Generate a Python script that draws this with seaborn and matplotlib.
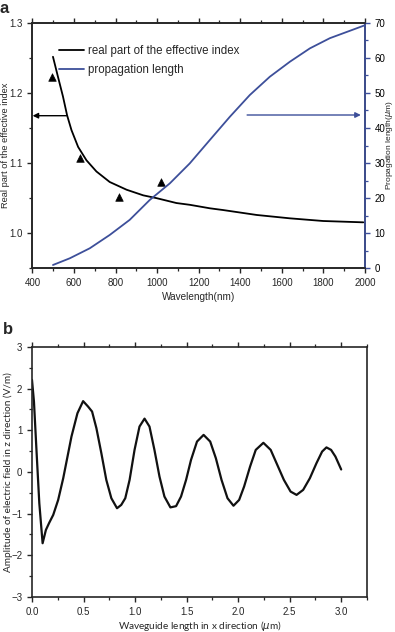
import numpy as np
import pandas as pd
import matplotlib
matplotlib.use("Agg")
import matplotlib.pyplot as plt
from matplotlib.ticker import MultipleLocator
import seaborn as sns

# panel a: effective index (left axis) and propagation length (right axis)
wl_index = [499, 523, 547, 567, 588, 620, 660, 708, 772, 853, 933, 997, 1093, 1157,
            1254, 1318, 1479, 1639, 1799, 1992]
n_eff = [1.2515, 1.223, 1.195, 1.168, 1.147, 1.123, 1.104, 1.088, 1.073, 1.062, 1.054,
         1.050, 1.043, 1.0405, 1.0355, 1.033, 1.026, 1.0212, 1.0174, 1.0155]

wl_prop = [499, 580, 676, 772, 868, 965, 1061, 1157, 1254, 1350, 1446, 1542, 1639, 1735,
           1831, 1927, 2000]
prop_len = [0.94, 2.85, 5.7, 9.5, 13.8, 19.5, 24.2, 29.9, 36.6, 43.2, 49.4, 54.6, 58.9,
            62.7, 65.6, 67.7, 69.3]

# measured points (triangles)
wl_meas = [496, 631, 817, 1021]
n_meas = [1.223, 1.107, 1.051, 1.073]

# panel b: field amplitude along the waveguide
x_pos = [0.0, 0.019, 0.045, 0.071, 0.103, 0.135, 0.167, 0.206, 0.254, 0.303, 0.351, 0.383,
         0.441, 0.496, 0.544, 0.583, 0.625, 0.673, 0.721, 0.77, 0.825, 0.866, 0.905, 0.947,
         0.995, 1.043, 1.092, 1.14, 1.188, 1.237, 1.285, 1.343, 1.398, 1.446, 1.495, 1.543,
         1.601, 1.665, 1.729, 1.784, 1.839, 1.897, 1.955, 2.01, 2.058, 2.116, 2.171, 2.245,
         2.316, 2.38, 2.444, 2.509, 2.567, 2.631, 2.696, 2.76, 2.815, 2.857, 2.902, 2.944, 3.0]
amp = [2.21, 1.69, 0.45, -0.75, -1.71, -1.39, -1.22, -1.03, -0.67, -0.15, 0.45, 0.85,
       1.41, 1.70, 1.57, 1.45, 1.05, 0.45, -0.19, -0.63, -0.87, -0.79, -0.63, -0.19,
       0.53, 1.09, 1.28, 1.09, 0.53, -0.11, -0.59, -0.85, -0.82, -0.59, -0.19, 0.29,
       0.73, 0.89, 0.73, 0.33, -0.19, -0.63, -0.81, -0.67, -0.35, 0.13, 0.53, 0.70,
       0.53, 0.17, -0.19, -0.47, -0.55, -0.43, -0.15, 0.21, 0.49, 0.59, 0.53, 0.37, 0.06]

BLUE = "#3d4f9a"

sns.set_style("ticks")
plt.rcParams['font.family'] = ['Liberation Sans', 'DejaVu Sans']
plt.rcParams['xtick.labelsize'] = 7
plt.rcParams['ytick.labelsize'] = 7


def style_ticks(ax):
    ax.tick_params(which="major", length=3.5, width=1.0, direction="out")
    ax.tick_params(which="minor", length=2, width=0.9, direction="out")
    for s in ax.spines.values():
        s.set_linewidth(1.2)


def main():
    fig = plt.figure(figsize=(3.95, 6.32), dpi=100)

    # ---- panel a ----
    ax = fig.add_axes([0.082, 0.5755, 0.842, 0.3885])
    df_n = pd.DataFrame({"wl": wl_index, "n": n_eff})
    df_l = pd.DataFrame({"wl": wl_prop, "L": prop_len})
    df_m = pd.DataFrame({"wl": wl_meas, "n": n_meas})

    sns.lineplot(data=df_n, x="wl", y="n", ax=ax, color="black", lw=1.3,
                 label="real part of the effective index")
    sns.scatterplot(data=df_m, x="wl", y="n", ax=ax, marker="^", color="black",
                    s=30, edgecolor="black", zorder=4)
    ax.plot([], [], color=BLUE, lw=1.3, label="propagation length")
    ax.set_xlim(400, 2000)
    ax.set_ylim(0.95, 1.3)
    ax.set_xticks(range(400, 2001, 200))
    ax.xaxis.set_minor_locator(MultipleLocator(100))
    ax.set_yticks([1.0, 1.1, 1.2, 1.3])
    ax.yaxis.set_minor_locator(MultipleLocator(0.05))
    ax.set_xlabel("Wavelength(nm)", fontsize=7.2, labelpad=3)
    ax.set_ylabel("Real part of the effective index", fontsize=6.7)
    ax.yaxis.set_label_coords(-0.068, 0.5)
    ax.tick_params(top=True, which="both")
    style_ticks(ax)
    ax.annotate("", xy=(401, 1.1675), xytext=(564, 1.1675),
                arrowprops=dict(arrowstyle="-|>", color="black", lw=1.0,
                                mutation_scale=8, shrinkA=0, shrinkB=0))
    ax.legend(loc="upper left", bbox_to_anchor=(0.065, 0.93), frameon=False,
              fontsize=8.3, handlelength=2.2, handletextpad=0.35, labelspacing=0.65,
              borderaxespad=0)

    ax2 = ax.twinx()
    sns.lineplot(data=df_l, x="wl", y="L", ax=ax2, color=BLUE, lw=1.3)
    ax2.set_ylim(0, 70)
    ax2.set_yticks(range(0, 71, 10))
    ax2.yaxis.set_minor_locator(MultipleLocator(5))
    ax2.set_ylabel("Propagation length($\\mu$m)", fontsize=6.0)
    ax2.yaxis.set_label_coords(1.058, 0.5)
    style_ticks(ax2)
    ax2.spines["right"].set_color(BLUE)
    ax2.tick_params(axis="y", which="both", colors=BLUE, labelcolor="black")
    ax2.annotate("", xy=(1980, 43.7), xytext=(1433, 43.7),
                 arrowprops=dict(arrowstyle="-|>", color=BLUE, lw=1.0,
                                 mutation_scale=8, shrinkA=0, shrinkB=0))
    ax2.set_xlim(400, 2000)

    fig.text(0.0, 0.998, "a", fontsize=12, fontweight="bold", va="top", ha="left")

    # ---- panel b ----
    bx = fig.add_axes([0.081, 0.0554, 0.848, 0.3956])
    df_b = pd.DataFrame({"x": x_pos, "amp": amp})
    sns.lineplot(data=df_b, x="x", y="amp", ax=bx, color="#111111", lw=1.6)
    bx.set_xlim(0, 3.25)
    bx.set_ylim(-3, 3)
    bx.set_xticks(np.arange(0, 3.01, 0.5))
    bx.xaxis.set_minor_locator(MultipleLocator(0.25))
    bx.set_yticks(range(-3, 4))
    bx.yaxis.set_minor_locator(MultipleLocator(0.5))
    bx.set_xticklabels([f"{v:.1f}" for v in np.arange(0, 3.01, 0.5)])
    bx.tick_params(top=True, which="both")
    style_ticks(bx)
    bx.set_xlabel("Waveguide length in x direction ($\\mu$m)", fontsize=7.2, labelpad=2,
                  family=["Lato", "DejaVu Sans"])
    bx.set_ylabel("Amplitude of electric field in z direction (V/m)", fontsize=7.2,
                  family=["Lato", "DejaVu Sans"])
    bx.yaxis.set_label_coords(-0.058, 0.5)

    fig.text(0.008, 0.478, "b", fontsize=12, fontweight="bold", va="center", ha="left")

    fig.savefig("out.png", dpi=100)
    plt.close(fig)


if __name__ == "__main__":
    main()
